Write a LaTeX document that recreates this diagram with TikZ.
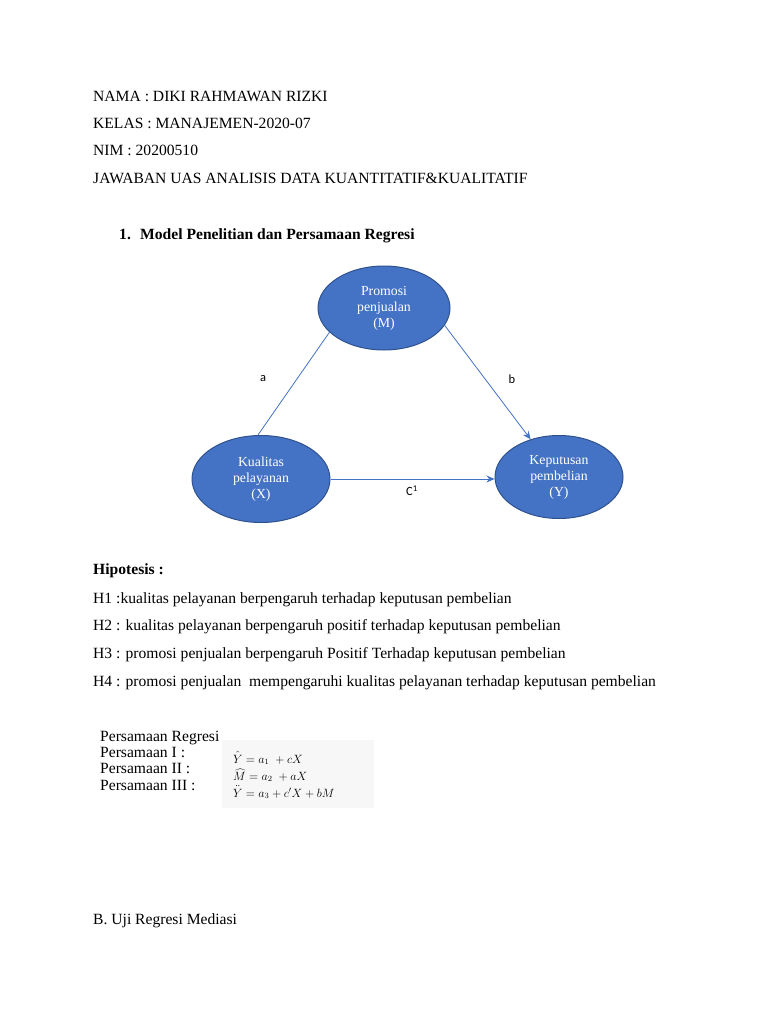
\documentclass[tikz,border=0pt]{standalone}
\usepackage{fontspec}
\setmainfont{Liberation Serif}
\newfontfamily\calibri{Carlito}
\usetikzlibrary{positioning,calc,shapes.geometric,arrows.meta}
\definecolor{ofblue}{HTML}{4472C4}
\definecolor{ofedge}{HTML}{2F528F}

\begin{document}
\begin{tikzpicture}[x=1pt,y=-1pt]
\tikzset{
  body/.style={anchor=base west, inner sep=0pt, font=\fontsize{15.6}{18}\selectfont},
  var/.style={ellipse, draw=ofedge, line width=1pt, fill=ofblue, text=white, inner sep=0pt, align=center, font=\fontsize{13.8}{16}\selectfont},
  link/.style={draw=ofblue, line width=0.8pt},
  arr/.style={-{Stealth[length=8pt,width=7pt]}},
  lbl/.style={font=\calibri\fontsize{12.5}{14}\selectfont, inner sep=0pt},
  eq/.style={anchor=base west, inner sep=0pt, font=\fontsize{11.5}{13}\selectfont}
}
\fill[white] (0,0) rectangle (768,1024);
\useasboundingbox (0,0) rectangle (768,1024);

% identitas
\node[body] (nama) at (93,102) {NAMA : DIKI RAHMAWAN RIZKI};
\node[body] (kelas) at (93,129) {KELAS : MANAJEMEN-2020-07};
\node[body] (nim) at (93,156) {NIM : 20200510};
\node[body] (judul) at (93,184) {JAWABAN UAS ANALISIS DATA KUANTITATIF\&KUALITATIF};

\node[body, font=\fontsize{15.6}{18}\selectfont\bfseries] (no1) at (119,240) {1.};
\node[body, font=\fontsize{15.6}{18}\selectfont\bfseries] (sub1) at (140,240) {Model Penelitian dan Persamaan Regresi};

% model
\node[var, minimum width=132pt, minimum height=84pt] (M) at (384,308) {Promosi\\penjualan\\(M)};
\node[var, minimum width=138pt, minimum height=87pt] (X) at (261,479) {Kualitas\\pelayanan\\(X)};
\node[var, minimum width=128pt, minimum height=83pt] (Y) at (559,477) {Keputusan\\pembelian\\(Y)};

\draw[link] (X.94) -- (M.204);
\draw[link, arr] (M.344) -- (Y.127);
\draw[link, arr] (X.east) -- (Y.west |- X.east);

\node[lbl] (la) at (263,379) {a};
\node[lbl] (lb) at (512,379) {b};
\node[lbl] (lc) at (412,491) {C\textsuperscript{1}};

% hipotesis
\node[body, font=\fontsize{15.6}{18}\selectfont\bfseries] (hip) at (93,574) {Hipotesis :};
\node[body] (h1) at (93,603) {H1 :kualitas pelayanan berpengaruh terhadap keputusan pembelian};
\node[body] (h2) at (93,630) {H2 : kualitas pelayanan berpengaruh positif terhadap keputusan pembelian};
\node[body] (h3) at (93,658) {H3 : promosi penjualan berpengaruh Positif Terhadap keputusan pembelian};
\node[body] (h4) at (93,686) {H4 : promosi penjualan\ \ mempengaruhi kualitas pelayanan terhadap keputusan pembelian};

% persamaan
\node[body] (pr) at (100,741) {Persamaan Regresi};
\node[body] (p1) at (100,757) {Persamaan I :};
\node[body] (p2) at (100,773) {Persamaan II :};
\node[body] (p3) at (100,790) {Persamaan III :};

\fill[black!3] (222,740) rectangle (374,808);
\node[eq] (e1) at (233,763) {$\hat{Y} = a_1 \;+ cX$};
\node[eq] (e2) at (233,780) {$\widehat{M} = a_2 \;+ aX$};
\node[eq] (e3) at (233,797) {$\ddot{Y} = a_3 + c'X + bM$};

\node[body] (bagb) at (93,924) {B. Uji Regresi Mediasi};
\end{tikzpicture}
\end{document}
